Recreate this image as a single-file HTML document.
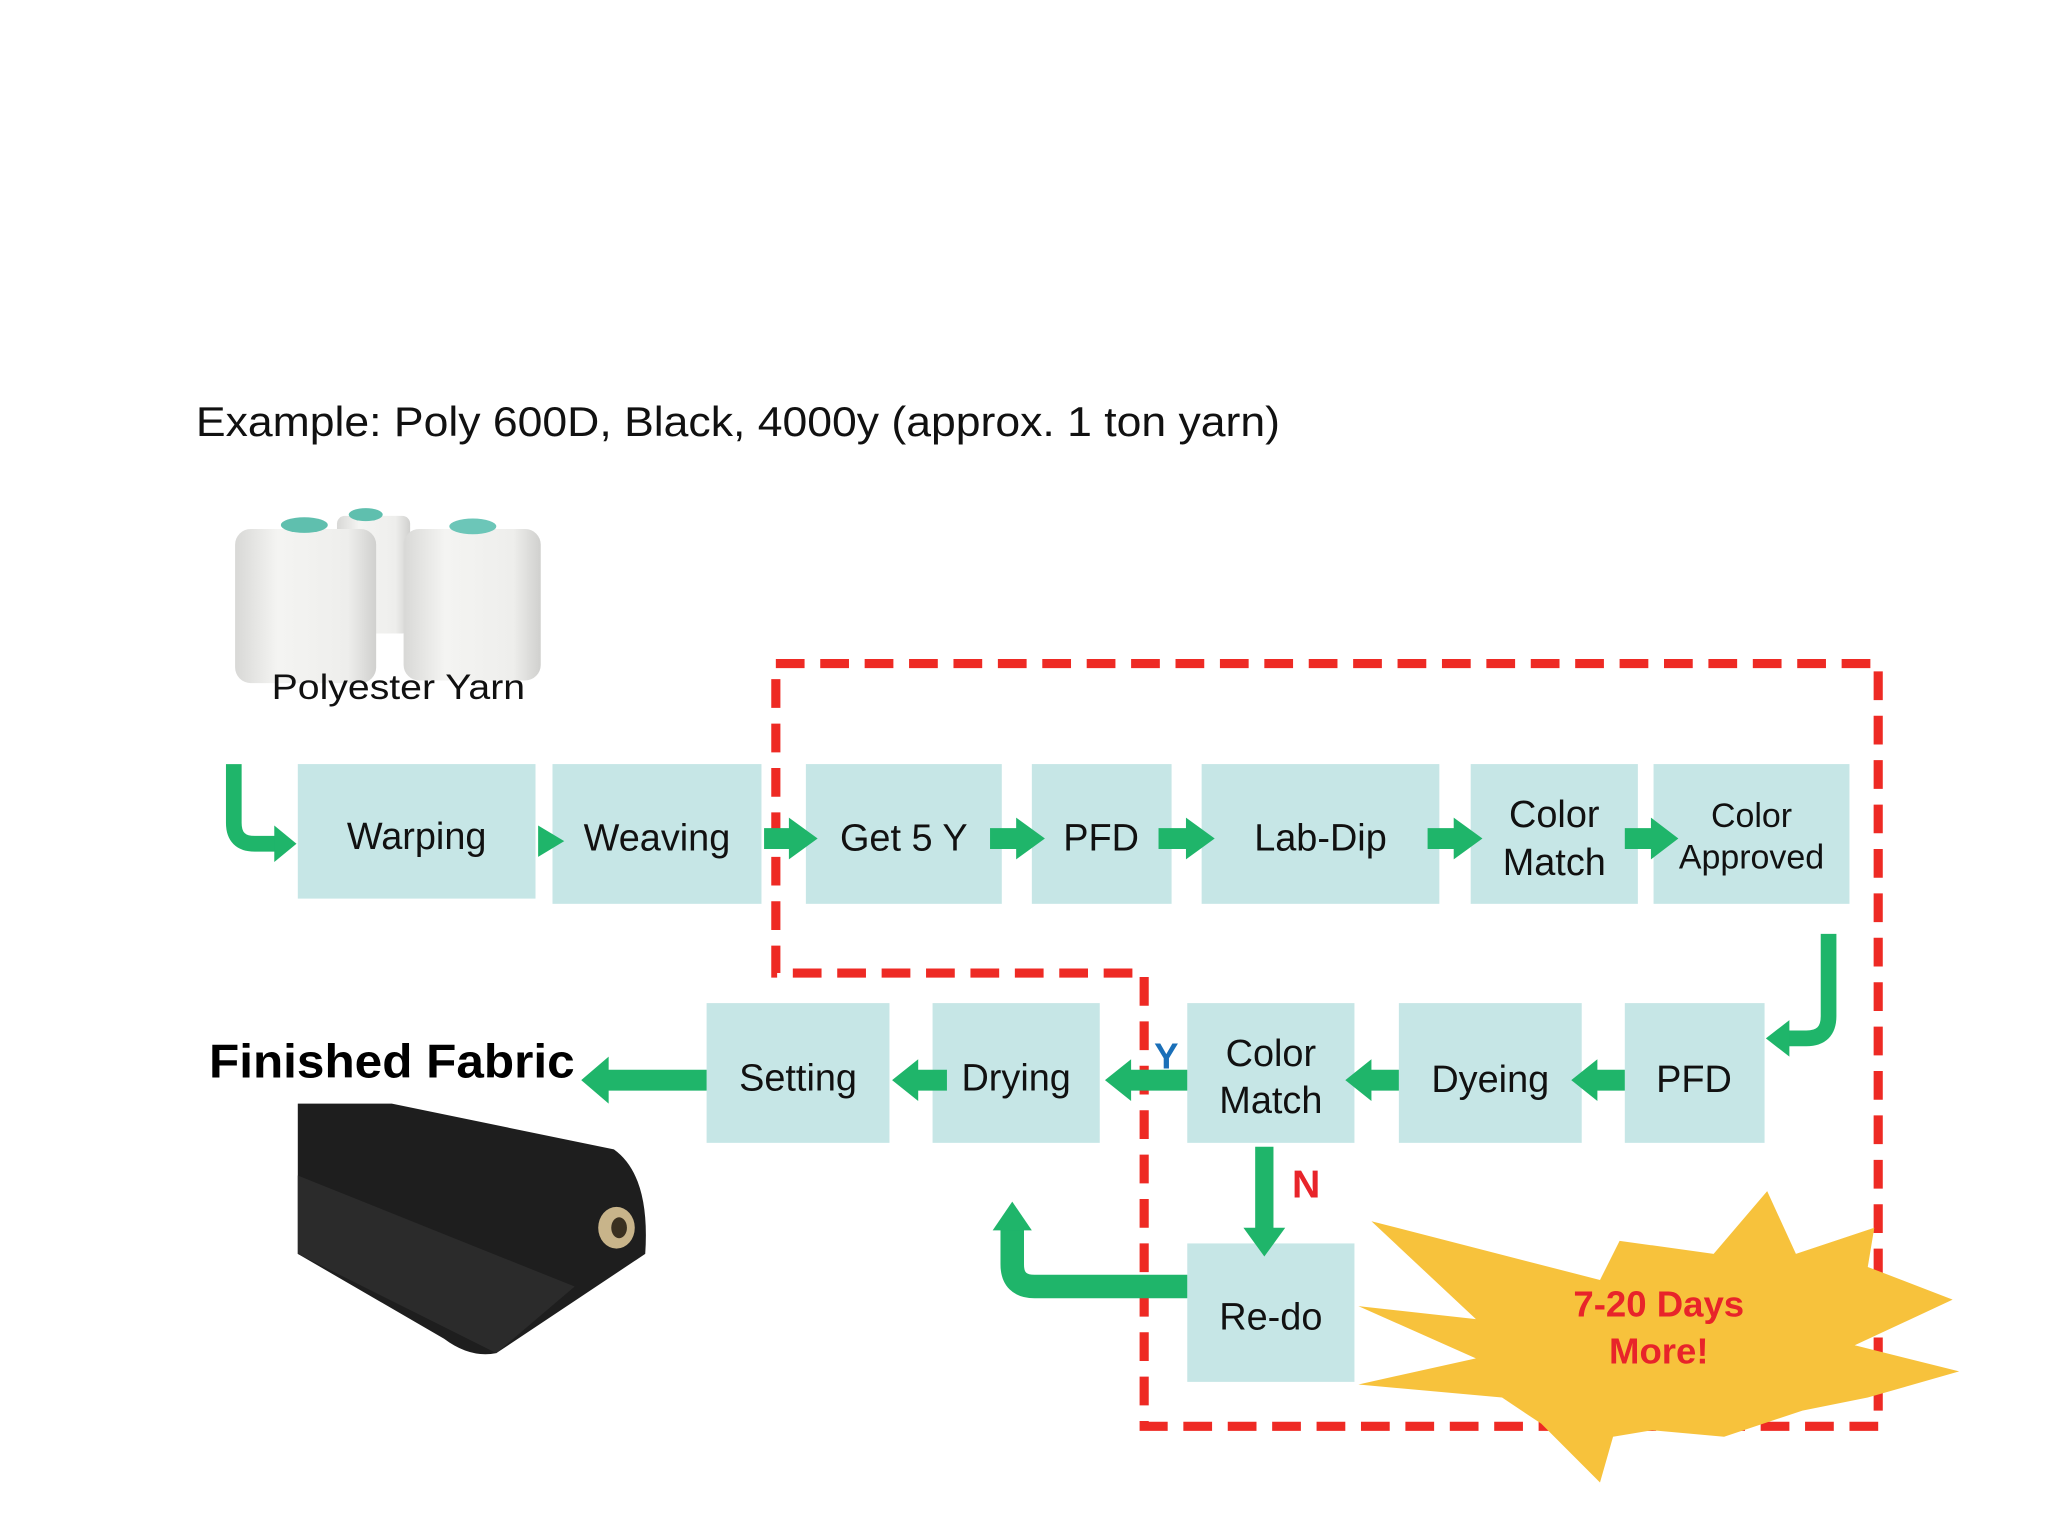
<!DOCTYPE html>
<html><head><meta charset="utf-8"><style>
html,body{margin:0;padding:0;background:#fff;}
svg{display:block;}
text{font-family:"Liberation Sans",sans-serif;}
</style></head><body>
<svg width="2048" height="1536" viewBox="0 0 1568 1176" xmlns="http://www.w3.org/2000/svg">
<defs>
<linearGradient id="sp" x1="0" x2="1" y1="0" y2="0">
<stop offset="0" stop-color="#d8d8d6"/><stop offset="0.3" stop-color="#f4f4f2"/><stop offset="0.8" stop-color="#eeeeec"/><stop offset="1" stop-color="#d0d0ce"/>
</linearGradient>
</defs>
<rect width="1568" height="1176" fill="#fff"/>
<text x="150" y="334" font-size="32" fill="#111" textLength="830" lengthAdjust="spacingAndGlyphs">Example: Poly 600D, Black, 4000y (approx. 1 ton yarn)</text>

<!-- yarn spools -->
<rect x="258" y="395" width="56" height="90" rx="6" fill="url(#sp)"/>
<ellipse cx="280" cy="394" rx="13" ry="5" fill="#5fbfae"/>
<rect x="180" y="405" width="108" height="118" rx="12" fill="url(#sp)"/>
<ellipse cx="233" cy="402" rx="18" ry="6" fill="#5fbfae"/>
<rect x="309" y="405" width="105" height="116" rx="12" fill="url(#sp)"/>
<ellipse cx="362" cy="403" rx="18" ry="6" fill="#6cc6b8"/>
<text x="208" y="535" font-size="27" fill="#111" textLength="194" lengthAdjust="spacingAndGlyphs">Polyester Yarn</text>

<!-- red dashed -->
<path d="M594,508 H1438 V1092 H876 V745 H594 Z" fill="none" stroke="#ee2a24" stroke-width="7" stroke-dasharray="22,12"/>

<!-- boxes -->
<g fill="#c6e6e6">
<rect x="228" y="585" width="182" height="103"/>
<rect x="423" y="585" width="160" height="107"/>
<rect x="617" y="585" width="150" height="107"/>
<rect x="790" y="585" width="107" height="107"/>
<rect x="920" y="585" width="182" height="107"/>
<rect x="1126" y="585" width="128" height="107"/>
<rect x="1266" y="585" width="150" height="107"/>
<rect x="541" y="768" width="140" height="107"/>
<rect x="714" y="768" width="128" height="107"/>
<rect x="909" y="768" width="128" height="107"/>
<rect x="1071" y="768" width="140" height="107"/>
<rect x="1244" y="768" width="107" height="107"/>
<rect x="909" y="952" width="128" height="106"/>
</g>
<g font-size="29" fill="#111" text-anchor="middle">
<text x="319" y="650">Warping</text>
<text x="503" y="651">Weaving</text>
<text x="692" y="651">Get 5 Y</text>
<text x="843" y="651">PFD</text>
<text x="1011" y="651">Lab-Dip</text>
<text x="1190" y="633">Color</text>
<text x="1190" y="670">Match</text>
<text x="1341" y="633" font-size="26">Color</text>
<text x="1341" y="665" font-size="26">Approved</text>
<text x="611" y="835">Setting</text>
<text x="778" y="835">Drying</text>
<text x="973" y="816">Color</text>
<text x="973" y="852">Match</text>
<text x="1141" y="836">Dyeing</text>
<text x="1297" y="836">PFD</text>
<text x="973" y="1018">Re-do</text>
</g>

<!-- green arrows -->
<g fill="#1fb56a">
<path d="M412,632 L432,644 L412,656 Z"/>
<path d="M585,634 H604 V626 L626,642 L604,658 V650 H585 Z"/>
<path d="M758,634 H778 V626 L800,642 L778,658 V650 H758 Z"/>
<path d="M887,634 H908 V626 L930,642 L908,658 V650 H887 Z"/>
<path d="M1093,634 H1113 V626 L1135,642 L1113,658 V650 H1093 Z"/>
<path d="M1244,634 H1264 V626 L1285,642 L1264,658 V650 H1244 Z"/>
<path d="M1244,819 H1223 V811 L1203,827 L1223,843 V835 H1244 Z"/>
<path d="M1071,819 H1050 V811 L1030,827 L1050,843 V835 H1071 Z"/>
<path d="M909,819 H866 V811 L846,827 L866,843 V835 H909 Z"/>
<path d="M725,819 H703 V811 L683,827 L703,843 V835 H725 Z"/>
<path d="M541,819 H466 V809 L445,827 L466,845 V835 H541 Z"/>
<path d="M961,878 H975 V940 H984 L968,962 L952,940 H961 Z"/>
</g>
<g fill="none" stroke="#1fb56a">
<path d="M179,585 V630 Q179,646 195,646 H212" stroke-width="12"/>
<path d="M1400,715 V778 Q1400,795 1383,795 H1368" stroke-width="12"/>
<path d="M909,985 H792 Q775,985 775,968 V940" stroke-width="18"/>
</g>
<g fill="#1fb56a">
<path d="M210,632 L227,646 L210,660 Z"/>
<path d="M1370,781 L1352,795 L1370,809 Z"/>
<path d="M760,942 L775,920 L790,942 Z"/>
</g>

<text x="893" y="818" font-size="28" font-weight="bold" fill="#1a6fb8" text-anchor="middle">Y</text>
<text x="1000" y="917" font-size="30" font-weight="bold" fill="#e8242a" text-anchor="middle">N</text>

<!-- finished fabric -->
<text x="160" y="825" font-size="36" font-weight="bold" fill="#000" textLength="280" lengthAdjust="spacingAndGlyphs">Finished Fabric</text>
<path d="M228,845 H300 L470,880 Q498,900 494,960 L380,1036 Q360,1040 340,1025 L228,960 Z" fill="#1e1e1e"/>
<path d="M228,900 L440,985 L380,1036 L228,960 Z" fill="#2b2b2b"/>
<ellipse cx="472" cy="940" rx="14" ry="16" fill="#c8b48a"/>
<ellipse cx="474" cy="940" rx="6" ry="8" fill="#3a3020"/>

<!-- starburst -->
<polygon fill="#f7c23c" points="1353,912 1312,960 1240,950 1225,980 1050,935 1130,1010 1040,1000 1130,1040 1040,1060 1150,1070 1180,1090 1225,1135 1235,1100 1265,1095 1320,1100 1380,1080 1430,1070 1500,1050 1420,1030 1495,995 1430,970 1435,940 1375,960"/>
<text x="1270" y="1008" font-size="28" font-weight="bold" fill="#e8242a" text-anchor="middle">7-20 Days</text>
<text x="1270" y="1044" font-size="28" font-weight="bold" fill="#e8242a" text-anchor="middle">More!</text>
</svg>
</body></html>
